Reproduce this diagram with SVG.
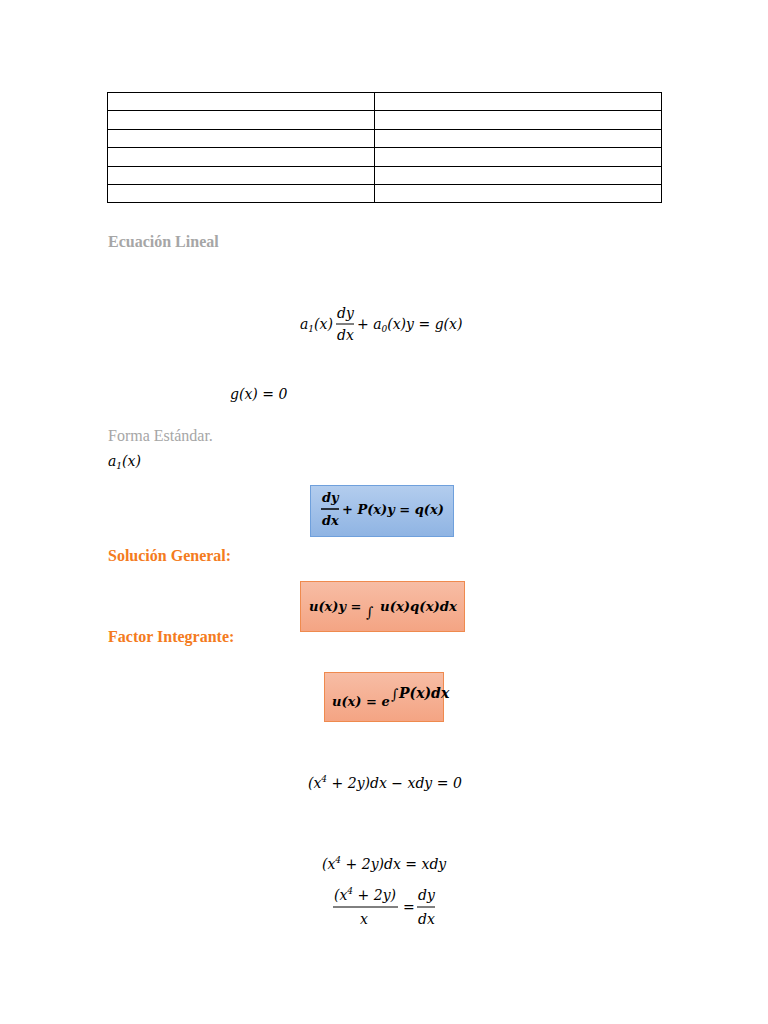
<svg xmlns="http://www.w3.org/2000/svg" width="768" height="1024" viewBox="0 0 768 1024">
<style>
.m{font-family:"DejaVu Serif",serif;font-style:italic;font-size:14px;fill:#000}
.b{font-weight:bold;font-size:13px}
.h{font-family:"Liberation Serif",serif;font-size:16px}
.g{fill:#a6a6a6;font-weight:bold}
.o{fill:#f47b20;font-weight:bold}
.t{fill:none;stroke:#000;stroke-width:1}
</style>
<defs>
<linearGradient id="bl" x1="0" y1="0" x2="0" y2="1"><stop offset="0" stop-color="#b3cdee"/><stop offset="1" stop-color="#8fb4e3"/></linearGradient>
<linearGradient id="or" x1="0" y1="0" x2="0" y2="1"><stop offset="0" stop-color="#f7bda5"/><stop offset="1" stop-color="#f4a483"/></linearGradient>
</defs>
<rect width="768" height="1024" fill="#fff"/>
<g id="table">
<rect class="t" x="107.5" y="92.5" width="554" height="110"/>
<line class="t" x1="374.5" y1="92" x2="374.5" y2="203"/>
<line class="t" x1="107" y1="110.5" x2="661" y2="110.5"/>
<line class="t" x1="107" y1="129.5" x2="661" y2="129.5"/>
<line class="t" x1="107" y1="147.5" x2="661" y2="147.5"/>
<line class="t" x1="107" y1="166.5" x2="661" y2="166.5"/>
<line class="t" x1="107" y1="184.5" x2="661" y2="184.5"/>
</g>
<text class="h g" x="108" y="247">Ecuación Lineal</text>
<g id="eq1">
<text class="m" x="300" y="329">a<tspan font-size="9" dy="3">1</tspan><tspan dy="-3">(x)</tspan></text>
<text class="m" x="337" y="318">dy</text><line x1="336" y1="324" x2="354" y2="324" stroke="#000"/><text class="m" x="337" y="340">dx</text>
<text class="m" x="357" y="329">+ a<tspan font-size="9" dy="3">0</tspan><tspan dy="-3">(x)y = g(x)</tspan></text>
</g>
<text class="m" x="230" y="399">g(x) = 0</text>
<text class="h" x="108" y="441" fill="#a6a6a6">Forma Estándar.</text>
<text class="m" x="108" y="466">a<tspan font-size="9" dy="3">1</tspan><tspan dy="-3">(x)</tspan></text>
<g id="box1">
<rect x="310.5" y="485.5" width="143" height="51" fill="url(#bl)" stroke="#6fa0dc"/>
<text class="m b" x="322" y="502">dy</text><line x1="321" y1="509" x2="339" y2="509" stroke="#000" stroke-width="1.5"/><text class="m b" x="322" y="525">dx</text>
<text class="m b" x="342" y="514">+ P(x)y = q(x)</text>
</g>
<text class="h o" x="108" y="561">Solución General:</text>
<g id="box2">
<rect x="300.5" y="581.5" width="164" height="50" fill="url(#or)" stroke="#ef8a4e"/>
<text class="m b" x="309" y="611">u(x)y =</text>
<text class="m" x="366" y="617" font-size="28" font-style="normal">∫</text>
<text class="m b" x="380" y="611" textLength="77" lengthAdjust="spacingAndGlyphs">u(x)q(x)dx</text>
</g>
<text class="h o" x="108" y="642">Factor Integrante:</text>
<g id="box3">
<rect x="324.5" y="672.5" width="119" height="49" fill="url(#or)" stroke="#ef8a4e"/>
<text class="m b" x="332" y="706">u(x) = e</text>
<text class="m" x="391" y="699" font-size="13" font-style="normal">∫</text>
<text class="m" x="399" y="698" font-size="8" font-weight="bold">P(x)dx</text>
</g>
<text class="m" x="308" y="788">(x<tspan font-size="9" dy="-6">4</tspan><tspan dy="6"> + 2y)dx − xdy = 0</tspan></text>
<text class="m" x="322" y="869">(x<tspan font-size="9" dy="-6">4</tspan><tspan dy="6"> + 2y)dx = xdy</tspan></text>
<g id="eq5">
<text class="m" x="334" y="900">(x<tspan font-size="9" dy="-6">4</tspan><tspan dy="6"> + 2y)</tspan></text>
<line x1="333" y1="907" x2="398" y2="907" stroke="#000"/>
<text class="m" x="360" y="924">x</text>
<text class="m" x="403" y="912">=</text>
<text class="m" x="418" y="900">dy</text><line x1="417" y1="907" x2="435" y2="907" stroke="#000"/><text class="m" x="418" y="924">dx</text>
</g>
</svg>
